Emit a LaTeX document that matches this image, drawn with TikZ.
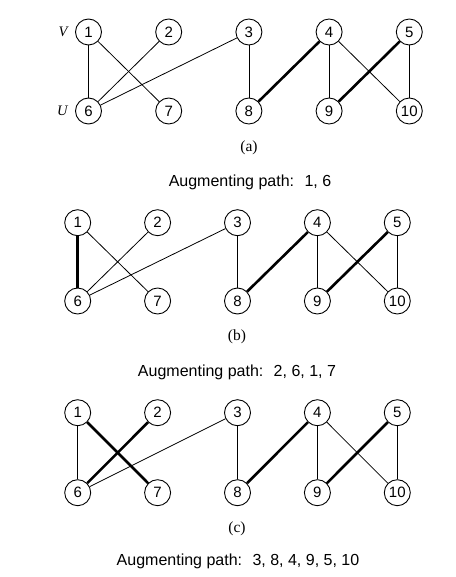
\documentclass[tikz,border=0pt]{standalone}
\usepackage{fontspec}
\setmainfont{Liberation Serif}
\setsansfont{Liberation Sans}
\usetikzlibrary{positioning}
\tikzset{
    every node/.style={font=\sffamily\fontsize{15}{17}\selectfont},
    vertex/.style={draw, circle, minimum size=26pt, inner sep=0pt, line width=0.9pt},
    edge/.style={line width=0.8pt},
    matched/.style={line width=2.6pt},
    caption/.style={font=\sffamily\fontsize{16}{18}\selectfont},
    sublabel/.style={font=\rmfamily\fontsize{15.5}{17}\selectfont},
    side/.style={font=\rmfamily\itshape\fontsize{14.5}{16}\selectfont},
}

\begin{document}
\begin{tikzpicture}[x=1pt,y=-1pt]
\useasboundingbox (0,0) rectangle (455,577);

% panel (a)
\foreach \i in {1,...,5}{
  \pgfmathtruncatemacro{\j}{\i+5} % lower vertex
  \node[vertex] (a\i) at ({88.5+80.2*(\i-1)},32) {\i};
  \node[vertex] (a\j) at ({88.5+80.2*(\i-1)},111) {\j};
}
\node[side,left=4pt of a1] (V) {V};
\node[side,left=4pt of a6] (U) {U};
\node[sublabel] (laba) at (249,148) {(a)};
\node[caption] (capa) at (250,182) {Augmenting path:~ 1, 6};

% panel (b)
\foreach \i in {1,...,5}{
  \pgfmathtruncatemacro{\j}{\i+5} % lower vertex
  \node[vertex] (b\i) at ({77.7+79.9*(\i-1)},222.7) {\i};
  \node[vertex] (b\j) at ({77.7+79.9*(\i-1)},301) {\j};
}
\node[sublabel] (labb) at (237,336.7) {(b)};
\node[caption] (capb) at (237,372.7) {Augmenting path:~ 2, 6, 1, 7};

% panel (c)
\foreach \i in {1,...,5}{
  \pgfmathtruncatemacro{\j}{\i+5} % lower vertex
  \node[vertex] (c\i) at ({77.7+79.9*(\i-1)},412.7) {\i};
  \node[vertex] (c\j) at ({77.7+79.9*(\i-1)},492.7) {\j};
}
\node[sublabel] (labc) at (237,529) {(c)};
\node[caption] (capc) at (238,561.7) {Augmenting path:~ 3, 8, 4, 9, 5, 10};

% edges
\foreach \u/\v in {1/6,1/7,2/6,3/6,3/8,4/9,4/10,5/10}{
  \draw[edge] (a\u) -- (a\v);
}
\foreach \u/\v in {4/8,5/9}{
  \draw[matched] (a\u) -- (a\v);
}
\foreach \u/\v in {1/7,2/6,3/6,3/8,4/9,4/10,5/10}{
  \draw[edge] (b\u) -- (b\v);
}
\foreach \u/\v in {1/6,4/8,5/9}{
  \draw[matched] (b\u) -- (b\v);
}
\foreach \u/\v in {1/6,3/6,3/8,4/9,4/10,5/10}{
  \draw[edge] (c\u) -- (c\v);
}
\foreach \u/\v in {2/6,1/7,4/8,5/9}{
  \draw[matched] (c\u) -- (c\v);
}
\end{tikzpicture}
\end{document}
